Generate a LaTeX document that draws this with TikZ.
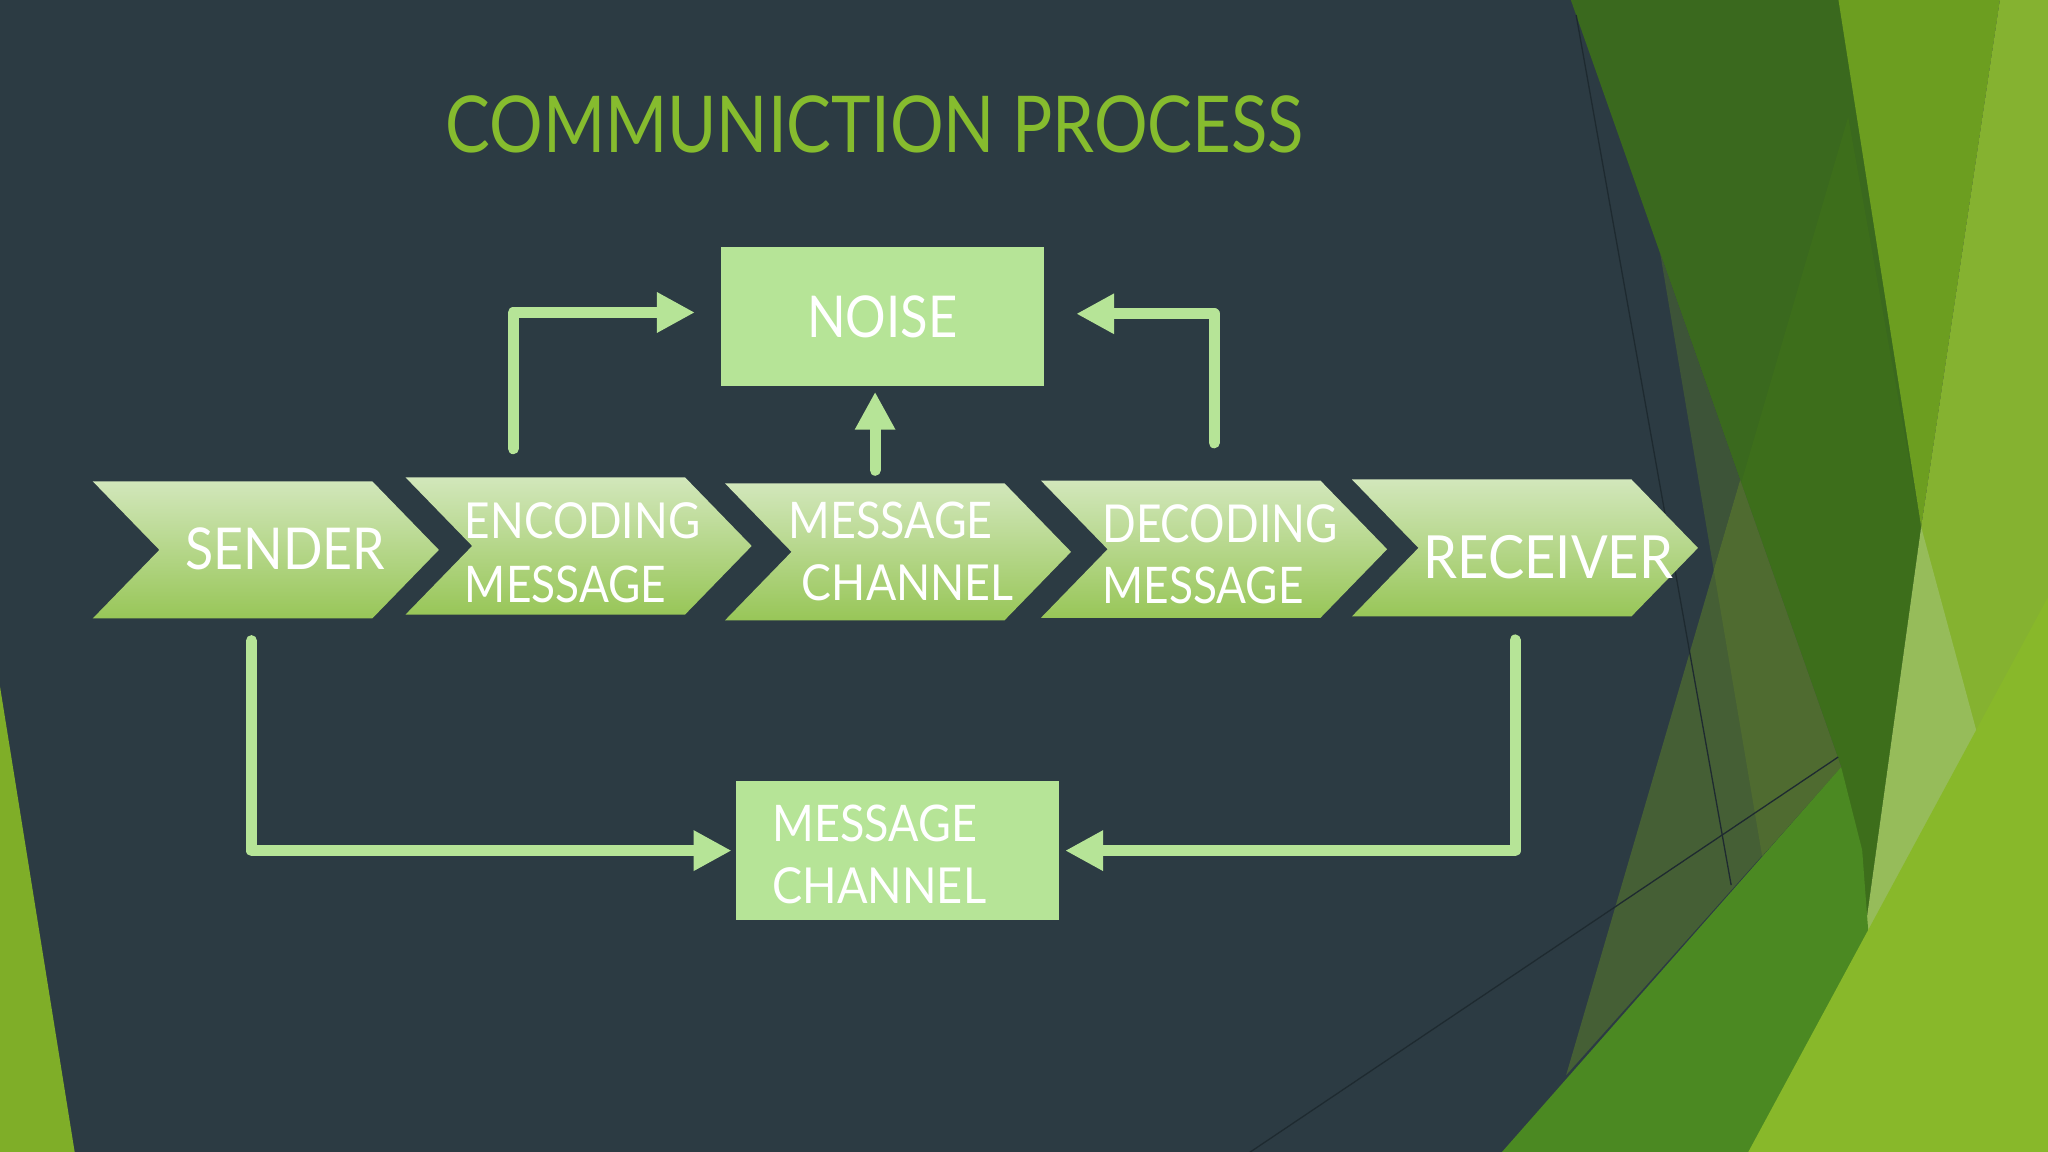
\documentclass[tikz,border=0pt]{standalone}
\usepackage{fontspec}
\usepackage{graphicx}
\newfontfamily\latof{Lato}
\usetikzlibrary{arrows.meta,calc}

\definecolor{slate}{HTML}{2C3B43}
\definecolor{leftgreen}{HTML}{7FAE28}
\definecolor{darkg}{HTML}{3A691E}
\definecolor{darkg2}{HTML}{3D6E1B}
\definecolor{midg}{HTML}{6C9E20}
\definecolor{lightg}{HTML}{85B230}
\definecolor{facetg}{HTML}{96BC5A}
\definecolor{bigg}{HTML}{88B82A}
\definecolor{bandg}{HTML}{4B8922}
\definecolor{oliveA}{HTML}{455F35}
\definecolor{oliveB}{HTML}{3D5438}
\definecolor{oliveC}{HTML}{4F6B30}
\definecolor{thinl}{HTML}{1E2A30}
\definecolor{titlegreen}{HTML}{86BC2E}
\definecolor{boxgreen}{HTML}{B6E497}
\definecolor{chevtop}{HTML}{D2E7BB}
\definecolor{chevbot}{HTML}{98C658}

\newcommand{\fitt}[3]{\resizebox{#1pt}{#2pt}{\latof #3}}
\newcommand{\drawchevron}[1]{%
  \shade[chevshade] (#1.north west) -- ([shift={(-51,0)}]#1.north east) -- (#1.east)
    -- ([shift={(-51,0)}]#1.south east) -- (#1.south west) -- ([shift={(51,0)}]#1.west) -- cycle;}

\begin{document}
\begin{tikzpicture}[x=0.5pt,y=-0.5pt,
  chevnode/.style={draw=none, inner sep=0pt, outer sep=0pt, minimum width=132.5pt, minimum height=52.5pt},
  chevshade/.style={top color=chevtop, bottom color=chevbot, draw=none},
  lbl/.style={inner sep=0pt, outer sep=0pt, anchor=north west, text=white},
  boxnode/.style={fill=boxgreen, inner sep=0pt, outer sep=0pt, text=white},
  conn/.style={draw=boxgreen, line width=4.25pt, line cap=round, line join=round,
    -{Triangle[length=14.5pt,width=14.5pt]}},
  thin/.style={draw=thinl, line width=0.5pt}
]
\useasboundingbox (0,0) rectangle (1568,882);
\fill[slate] (0,0) rectangle (1568,882);

% background facets (full-resolution coordinates)
\begin{scope}[x=0.38285pt,y=-0.38285pt]
  \fill[leftgreen] (-2,674) -- (75,1154) -- (-2,1154) -- cycle;
  \fill[darkg] (1570,-2) -- (1840,-2) -- (1921,527) -- (1865,930) -- (1841,767) -- cycle;
  \fill[darkg2] (1848,117) -- (1921,527) -- (1865,930) -- (1841,767) -- (1741,483) -- cycle;
  \fill[midg] (1838,-2) -- (2000,-2) -- (1921,527) -- cycle;
  \fill[lightg] (2000,-2) -- (2050,-2) -- (2050,760) -- (1960,900) -- (1921,527) -- cycle;
  \fill[facetg] (1921,527) -- (1995,800) -- (1850,1000) -- (1865,930) -- cycle;
  \fill[oliveA] (1740,480) -- (1566,1075) -- (1841,767) -- cycle;
  \fill[oliveB] (1660,253) -- (1713.6,570) -- (1740,480) -- cycle;
  \fill[oliveC] (1740,480) -- (1713.6,570) -- (1762,856) -- (1841,767) -- cycle;
  \draw[thin] (1576,15) -- (1731,885);
  \draw[thin] (1247,1154) -- (1838,757);
  \fill[bandg] (1500,1154) -- (1841,767) -- (1862,850) -- (1868,930) -- (1900,1000) -- (1800,1160) -- cycle;
  \fill[bigg] (2050,593) -- (2050,1154) -- (1747,1154) -- cycle;
\end{scope}

% title
\node[lbl, text=titlegreen] (ttitle) at (341,73) {\fitt{328.5}{21.75}{COMMUNICTION PROCESS}};

% chevrons
\node[chevnode] (sender) at (203.5,421) {};
\drawchevron{sender}
\node[chevnode] (enc) at (443,418) {};
\drawchevron{enc}
\node[chevnode] (mchan) at (687.5,422.5) {};
\drawchevron{mchan}
\node[chevnode] (dec) at (929.5,420.5) {};
\drawchevron{dec}
\node[chevnode] (recv) at (1167.5,419.5) {};
\drawchevron{recv}

\node[lbl] (tsender) at (142,404) {\fitt{76.5}{16}{SENDER}};
\node[lbl] (tenc1) at (356,385) {\fitt{90}{13.75}{ENCODING}};
\node[lbl] (tenc2) at (356,433) {\fitt{77}{14}{MESSAGE}};
\node[lbl] (tmc1) at (604,384) {\fitt{78}{14}{MESSAGE}};
\node[lbl] (tmc2) at (614,432) {\fitt{81}{13.75}{CHANNEL}};
\node[lbl] (tdec1) at (844,386) {\fitt{90}{14.5}{DECODING}};
\node[lbl] (tdec2) at (844,434) {\fitt{77}{14}{MESSAGE}};
\node[lbl] (trecv) at (1090,410) {\fitt{95.5}{16.5}{RECEIVER}};

% boxes
\node[boxnode, minimum width=123.5pt, minimum height=53.25pt] (noise) at (675.5,242.25) {\fitt{57.5}{16}{NOISE}};
\node[boxnode, minimum width=123.7pt, minimum height=53.25pt] (mbox) at (687.3,651.25) {};
\node[lbl] (tmb1) at (591.5,616.5) {\fitt{78.25}{14}{MESSAGE}};
\node[lbl] (tmb2) at (591.5,664) {\fitt{81.75}{13.75}{CHANNEL}};

% connectors
\draw[conn] ([shift={(-50,-22)}]enc.north) |- ([shift={(-20,-3)}]noise.west);
\draw[conn] ([shift={(-17.5,-10)}]mchan.north) -- ([shift={(-5.5,4.5)}]noise.south);
\draw[conn] ([shift={(0,-29)}]dec.north) |- ([shift={(25,-2)}]noise.east);
\draw[conn] ([shift={(-11,17)}]sender.south) |- ([shift={(-3.5,0)}]mbox.west);
\draw[conn] ([shift={(-7.5,18)}]recv.south) |- ([shift={(4.5,0)}]mbox.east);
\end{tikzpicture}
\end{document}
